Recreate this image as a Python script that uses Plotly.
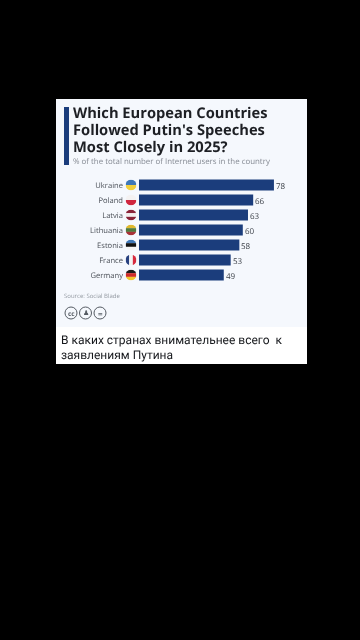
import base64
import plotly.graph_objects as go

countries = ["Ukraine", "Poland", "Latvia", "Lithuania", "Estonia", "France", "Germany"]
values = [78, 66, 63, 60, 58, 53, 49]
title_lines = ["Which European Countries", "Followed Putin's Speeches", "Most Closely in 2025?"]
subtitle = "% of the total number of Internet users in the country"
source = "Source: Social Blade"
caption_lines = ["В каких странах внимательнее всего  к", "заявлениям Путина"]
flags = {
    "Ukraine": (["#3f78b8", "#f2d03c"], "h"),
    "Poland": (["#f4f2f2", "#d0263f"], "h"),
    "Latvia": (["#8a2338", "#f3eeee", "#8a2338"], "h"),
    "Lithuania": (["#e0b92e", "#4f7a3e", "#a83238"], "h"),
    "Estonia": (["#3f78b8", "#111111", "#f4f4f4"], "h"),
    "France": (["#27407f", "#f4f4f4", "#d6293e"], "v"),
    "Germany": (["#1a1a1a", "#cf2b2b", "#f0c62e"], "h"),
}

W, H = 360, 640
BAR = "#1b3d7c"
def px(x): return x / W
def py(y): return 1 - y / H

def flag_uri(colors, orient):
    n = len(colors)
    parts = []
    for i, c in enumerate(colors):
        if orient == "h":
            parts.append(f'<rect x="0" y="{i*12/n}" width="12" height="{12/n+0.1}" fill="{c}"/>')
        else:
            parts.append(f'<rect x="{i*12/n}" y="0" width="{12/n+0.1}" height="12" fill="{c}"/>')
    svg = ('<svg xmlns="http://www.w3.org/2000/svg" width="48" height="48" viewBox="0 0 12 12">'
           '<clipPath id="c"><circle cx="6" cy="6" r="6"/></clipPath><g clip-path="url(#c)">'
           + "".join(parts) + "</g></svg>")
    return "data:image/svg+xml;base64," + base64.b64encode(svg.encode()).decode()

fig = go.Figure(go.Bar(
    x=values, y=countries, orientation="h",
    marker=dict(color=BAR, line_width=0), width=0.74,
    hoverinfo="skip",
))

def rect(x0, y0, x1, y1, color, layer="below"):
    return dict(type="rect", xref="paper", yref="paper", x0=px(x0), x1=px(x1), y0=py(y0), y1=py(y1),
                fillcolor=color, line_width=0, layer=layer)

shapes = [
    rect(56, 99, 307, 327, "#f5f8fd"),
    rect(56, 327, 307, 364, "#ffffff"),
    rect(64, 107, 69, 165, BAR),
]
annotations = []
def label(x, y, text, size, color, family="Open Sans", bold=False, anchor="left"):
    annotations.append(dict(xref="paper", yref="paper", x=px(x), y=py(y), text=f"<b>{text}</b>" if bold else text,
                            showarrow=False, xanchor=anchor, yanchor="middle",
                            font=dict(family=family, size=size, color=color), borderpad=0, borderwidth=0))

for c, v in zip(countries, values):
    annotations.append(dict(xref="x", yref="y", x=v, y=c, text=str(v), showarrow=False, xanchor="left",
                            yanchor="middle", xshift=1, yshift=0, borderpad=0,
                            font=dict(family="Open Sans", size=8, color="#3a3f47")))

for i, t in enumerate(title_lines):
    label(72.8, 112 + i * 17.2, t, 14.7, "#1d1f24", bold=True)
label(72.5, 161, subtitle, 7.9, "#868b94")
label(63.5, 296, source, 6, "#9399a1")
for i, t in enumerate(caption_lines):
    label(61, 340 + i * 15, t, 12, "#16181c", family="Roboto")

# Licence icons
for cx in (71, 85.5, 100):
    shapes.append(dict(type="circle", xref="paper", yref="paper", x0=px(cx - 6), x1=px(cx + 6),
                       y0=py(313 + 6), y1=py(313 - 6), line=dict(color="#555b63", width=1),
                       fillcolor="rgba(0,0,0,0)", layer="below"))
label(71, 313, "cc", 6.5, "#555b63", bold=True, anchor="center")
label(85.5, 313, "♟", 7, "#555b63", family="DejaVu Sans", anchor="center")
label(100, 313, "=", 8, "#555b63", bold=True, anchor="center")

images = []
for c in countries:
    idx = countries.index(c)
    colors, orient = flags[c]
    images.append(dict(source=flag_uri(colors, orient), xref="paper", yref="y", x=px(131), y=idx,
                       sizex=11 / W, sizey=0.73, xanchor="center", yanchor="middle",
                       sizing="stretch", layer="above"))

fig.update_layout(
    width=W, height=H, margin=dict(l=0, r=0, t=0, b=0),
    paper_bgcolor="#000000", plot_bgcolor="rgba(0,0,0,0)",
    showlegend=False, shapes=shapes, annotations=annotations, images=images,
    xaxis=dict(domain=[px(139), px(312)], range=[0, 100], visible=False, fixedrange=True),
    yaxis=dict(domain=[py(282.5), py(177.5)], autorange="reversed", showline=False, showgrid=False,
               ticks="", ticklabelstandoff=15, fixedrange=True,
               tickfont=dict(family="Open Sans", size=7.6, color="#4a4f57")),
)
fig.write_html("out.html", config=dict(displayModeBar=False),
               post_script=("document.body.style.margin='0';document.body.style.background='#000';"
                            "var s=document.createElement('style');"
                            "s.textContent='svg text{text-rendering:geometricPrecision}"
                            ".plotly-graph-div{filter:blur(0.45px)}';document.head.appendChild(s);"))
